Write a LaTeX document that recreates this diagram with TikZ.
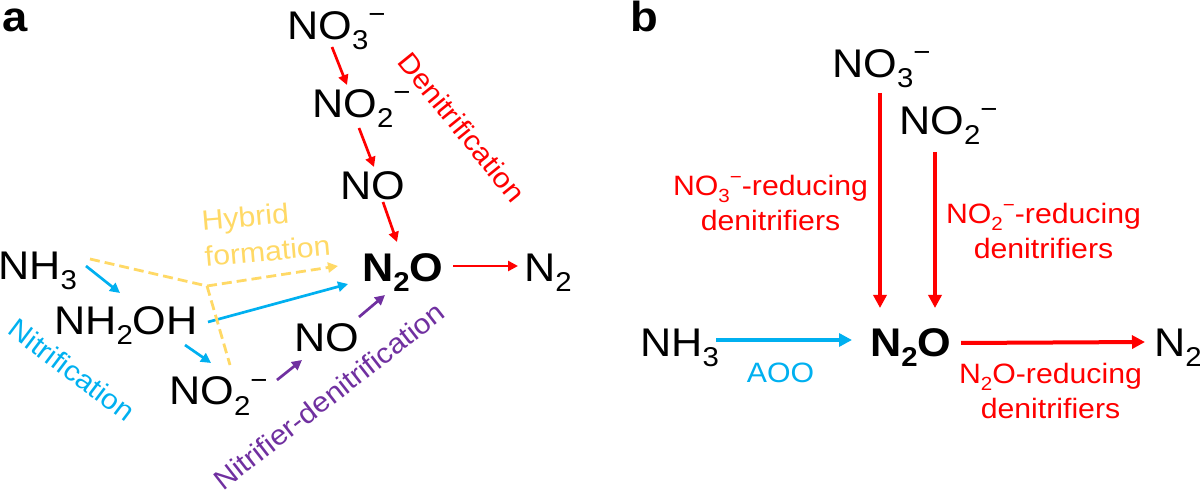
\documentclass[tikz,border=0pt]{standalone}
\usepackage{fontspec}
\setmainfont{Liberation Sans}[FakeStretch=1.08]
\usepackage{graphicx}
\usetikzlibrary{arrows.meta,calc}
\definecolor{rd}{RGB}{255,0,0}
\definecolor{bl}{RGB}{0,176,240}
\definecolor{pu}{RGB}{112,48,160}
\definecolor{yl}{RGB}{255,217,102}
\newcommand\sub[1]{\raisebox{-0.25em}{\scalebox{0.68}{#1}}}
\newcommand\minussup{\raisebox{0.4em}{\scalebox{0.68}{−}}}
\begin{document}
\begin{tikzpicture}[x=1pt,y=-1pt,
  chem/.style={inner sep=0pt, anchor=base west, font=\fontsize{40}{48}\selectfont},
  chembold/.style={chem, font=\fontsize{40}{48}\selectfont\bfseries},
  panel/.style={inner sep=0pt, anchor=base west, font=\fontsize{42}{48}\selectfont\bfseries},
  lab/.style={inner sep=0pt, font=\fontsize{28}{35}\selectfont, align=center},
  rot/.style={inner sep=0pt, font=\fontsize{28}{32}\selectfont},
  aarr/.style={line width=2.7pt, -{Triangle[length=10pt,width=10pt]}},
  barr/.style={line width=4pt, -{Triangle[length=13pt,width=13pt]}},
  ydash/.style={yl, line width=2.8pt, dash pattern=on 10pt off 5pt}]
\useasboundingbox (0,0) rectangle (1200,494);
% panel labels
\node[panel] (pa) at (2,32) {a};
\node[panel] (pb) at (630,32) {b};
% panel a species
\node[chem] (no3a) at (287,40) {NO\sub{3}\minussup};
\node[chem] (no2a) at (312,118) {NO\sub{2}\minussup};
\node[chem] (noa) at (340,200) {NO};
\node[chembold] (n2oa) at (362,282) {N\sub{2}O};
\node[chem] (n2a) at (524,282) {N\sub{2}};
\node[chem] (nh3a) at (-2,280) {NH\sub{3}};
\node[chem] (nh2oh) at (54,335) {NH\sub{2}OH};
\node[chem] (no2b) at (169,405) {NO\sub{2}\minussup};
\node[chem] (nob) at (294,352) {NO};
% panel a labels
\node[rot, text=rd, rotate=-51] (den) at (462,127) {Denitrification};
\node[rot, text=bl, rotate=-37] (nit) at (72,370) {Nitrification};
\node[rot, text=pu, rotate=38] (nde) at (329,396) {Nitrifier-denitrification};
\node[inner sep=0pt, font=\fontsize{28}{36}\selectfont, text=yl, align=left, rotate=5] (hyb) at (266,233) {Hybrid\\formation};
% panel a arrows
\draw[aarr,rd] ($(no3a.base west)+(45,7)$) -- ($(no2a.base west)+(35,-33)$);
\draw[aarr,rd] ($(no2a.base west)+(47,10)$) -- ($(noa.base west)+(34,-33)$);
\draw[aarr,rd] ($(noa.base west)+(43,2)$) -- ($(n2oa.base west)+(35,-40)$);
\draw[aarr,rd] ($(n2oa.base west)+(91,-16)$) -- ($(n2a.base west)+(-6,-16)$);
\draw[aarr,bl] ($(nh3a.base west)+(88,-14)$) -- ($(nh2oh.base west)+(66,-42)$);
\draw[aarr,bl] ($(nh2oh.base west)+(154,-13)$) -- ($(n2oa.base west)+(-14,2)$);
\draw[aarr,bl] ($(nh2oh.base west)+(131,10)$) -- ($(no2b.base west)+(42,-42)$);
\draw[aarr,pu] ($(no2b.base west)+(108,-25)$) -- ($(nob.base west)+(8,8)$);
\draw[aarr,pu] ($(nob.base west)+(65,-35)$) -- ($(n2oa.base west)+(23,13)$);
% hybrid formation dashed paths
\coordinate (hj) at (207,286);
\draw[ydash] ($(nh3a.base west)+(92,-21)$) -- (hj);
\draw[ydash, -{Triangle[length=10pt,width=10pt]}] (hj) -- ($(n2oa.base west)+(-24,-16)$);
\draw[ydash] (hj) -- ($(no2b.base west)+(61,-40)$);
% panel b species
\node[chem] (nh3b) at (640,356) {NH\sub{3}};
\node[chembold] (n2ob) at (870,357) {N\sub{2}O};
\node[chem] (n2b) at (1154,357) {N\sub{2}};
\node[chem] (no3c) at (832,78) {NO\sub{3}\minussup};
\node[chem] (no2c) at (899,135) {NO\sub{2}\minussup};
% panel b labels
\node[lab, text=rd] (l3) at (770.5,202.5) {NO\sub{3}\minussup-reducing\\denitrifiers};
\node[lab, text=rd] (l2) at (1043.5,230.5) {NO\sub{2}\minussup-reducing\\denitrifiers};
\node[lab, text=rd] (l1) at (1050.5,390.5) {N\sub{2}O-reducing\\denitrifiers};
\node[inner sep=0pt, anchor=base, font=\fontsize{28}{35}\selectfont, text=bl] (aoo) at (780.5,382) {AOO};
% panel b arrows
\draw[barr,rd] ($(no3c.base west)+(48,15)$) -- ($(n2ob.base west)+(10,-49)$);
\draw[barr,rd] ($(no2c.base west)+(36,17)$) -- ($(n2ob.base west)+(65,-49)$);
\draw[barr,bl,line width=3.4pt] ($(nh3b.base west)+(76,-16)$) -- ($(n2ob.base west)+(-18,-17)$);
\draw[barr,rd] ($(n2ob.base west)+(91,-14)$) -- ($(n2b.base west)+(-9,-15)$);
\end{tikzpicture}
\end{document}
